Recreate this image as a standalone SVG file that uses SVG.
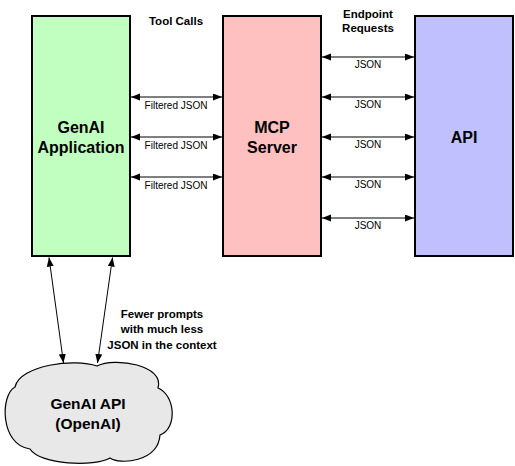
<svg xmlns="http://www.w3.org/2000/svg" width="515" height="466" viewBox="0 0 515 466">
<style>
.box{stroke:#000;stroke-width:2}
.t{font-family:"Liberation Sans",Arial,Helvetica,sans-serif;fill:#000;text-anchor:middle}
.b{font-weight:bold}
.title{font-size:16px;font-weight:bold}
.hdr{font-size:11.5px;font-weight:bold}
.lbl{font-size:10px}
.conn line{stroke:#000;stroke-width:1;marker-start:url(#ah);marker-end:url(#ah)}
</style>
<defs>
<marker id="ah" markerUnits="userSpaceOnUse" markerWidth="10" markerHeight="8" refX="9" refY="3.5" orient="auto-start-reverse">
<path d="M0,0 L9,3.5 L0,7 z" fill="#000"/>
</marker>
</defs>
<rect width="515" height="466" fill="#fff"/>
<g id="genai-app">
<rect class="box" x="32" y="16" width="98" height="240" fill="#c0ffc0"/>
<text class="t title" x="81" y="133">GenAI</text>
<text class="t title" x="81" y="153">Application</text>
</g>
<g id="mcp-server">
<rect class="box" x="223" y="16" width="98" height="240" fill="#ffc0c0"/>
<text class="t title" x="272" y="133">MCP</text>
<text class="t title" x="272" y="153">Server</text>
</g>
<g id="api">
<rect class="box" x="415" y="16" width="98" height="240" fill="#c0c0ff"/>
<text class="t title" x="464" y="142.5">API</text>
</g>
<g id="genai-api">
<path d="M15,387 C20,365 75,358 97,366 C115,357 165,365 158,388 C175,395 178,428 160,435 C158,462 120,465 110,458 C95,467 40,465 30,449 C0,445 0,395 15,387 Z" fill="#e8e8e8" stroke="#000" stroke-width="1.2"/>
<text class="t b" font-size="15.5" x="88" y="409">GenAI API</text>
<text class="t b" font-size="15.5" x="88" y="429">(OpenAI)</text>
</g>
<g id="labels">
<text class="t hdr" x="176" y="24.8">Tool Calls</text>
<text class="t hdr" x="368" y="17.5">Endpoint</text>
<text class="t hdr" x="368" y="32">Requests</text>
<text class="t hdr" x="162" y="317.5">Fewer prompts</text>
<text class="t hdr" x="162" y="333">with much less</text>
<text class="t hdr" x="162" y="348.5">JSON in the context</text>
</g>
<g id="connectors" class="conn">
<line x1="131" y1="97" x2="222" y2="97"/>
<line x1="131" y1="137" x2="222" y2="137"/>
<line x1="131" y1="177" x2="222" y2="177"/>
<line x1="322" y1="57" x2="414" y2="57"/>
<line x1="322" y1="97" x2="414" y2="97"/>
<line x1="322" y1="137" x2="414" y2="137"/>
<line x1="322" y1="177" x2="414" y2="177"/>
<line x1="322" y1="218" x2="414" y2="218"/>
<line x1="49" y1="257.5" x2="63.5" y2="363"/>
<line x1="112.5" y1="257.5" x2="97.5" y2="363"/>
</g>
<g id="connector-labels">
<text class="t lbl" x="176" y="108.5">Filtered JSON</text>
<text class="t lbl" x="176" y="148.5">Filtered JSON</text>
<text class="t lbl" x="176" y="188.5">Filtered JSON</text>
<text class="t lbl" x="368" y="68">JSON</text>
<text class="t lbl" x="368" y="108">JSON</text>
<text class="t lbl" x="368" y="148">JSON</text>
<text class="t lbl" x="368" y="188">JSON</text>
<text class="t lbl" x="368" y="229">JSON</text>
</g>
</svg>
